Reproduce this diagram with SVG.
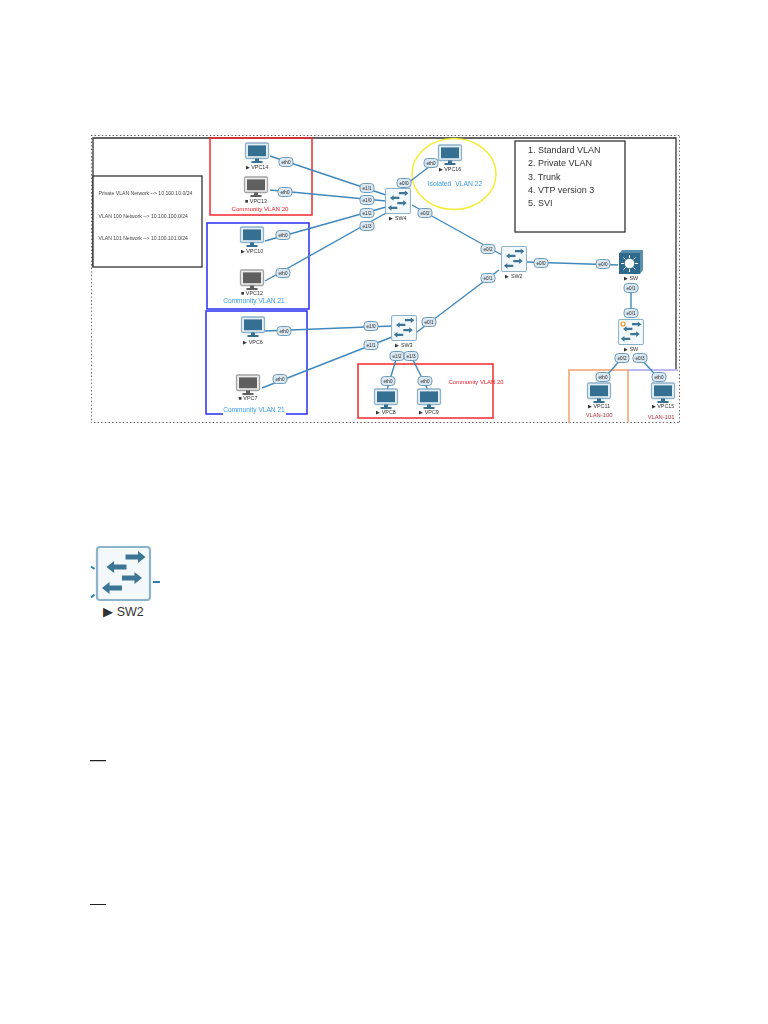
<svg xmlns="http://www.w3.org/2000/svg" width="768" height="1024" viewBox="0 0 768 1024">
<style>
text{font-family:"Liberation Sans",Arial,sans-serif}
.link{fill:none;stroke:#3f88bd;stroke-width:1.4}
.pill rect{fill:#dbe8f1;stroke:#6d9cbb;stroke-width:1}
.pill text{font-size:4.6px;fill:#222;text-anchor:middle}
.nl{font-size:5.4px;fill:#333;text-anchor:middle}
.box{fill:none;stroke-width:1.5}
.dots{fill:none;stroke:#222;stroke-width:1.4;stroke-dasharray:1.4 2.2}
.blue{fill:#3b9cf0;text-anchor:middle}
.red{fill:#f0202a;text-anchor:middle}
.dred{fill:#b5303a;text-anchor:middle;font-size:5.8px}
.note{font-size:5.1px;fill:#444}
.leg{font-size:9px;fill:#333}
</style>
<defs>
<g id="mon"><rect x="-11.5" y="-10" width="23" height="15.5" rx="1.5" fill="#e6eff5" stroke="#8eb2c8" stroke-width="1.3"/><rect x="-9" y="-7.6" width="18" height="10.8" fill="#346f92"/><path d="M-2,5.5H2V8H5.5V10H-5.5V8H-2Z" fill="#346f92"/></g>
<g id="mong"><rect x="-11.5" y="-10" width="23" height="15.5" rx="1.5" fill="#eee" stroke="#a3a3a3" stroke-width="1.3"/><rect x="-9" y="-7.6" width="18" height="10.8" fill="#5e5e5e"/><path d="M-2,5.5H2V8H5.5V10H-5.5V8H-2Z" fill="#5e5e5e"/></g>
<path id="ar" d="M0,-2.4H12.5V-6L20,0L12.5,6V2.4H0Z" fill="#3d7594"/>
<g id="sw"><rect x="-26.5" y="-26.5" width="53" height="53" rx="3" fill="#f3f8fb" stroke="#8db3cb" stroke-width="2.2"/><use href="#ar" transform="translate(2,-16.5)"/><use href="#ar" transform="translate(3,-6.5) rotate(180)"/><use href="#ar" transform="translate(-1.5,4.5)"/><use href="#ar" transform="translate(-1.5,14.5) rotate(180)"/></g>
<filter id="soft" x="0" y="0" width="100%" height="100%"><feGaussianBlur stdDeviation="0.3"/></filter>
</defs>
<rect width="768" height="1024" fill="#fff"/>
<g id="diagram" filter="url(#soft)">
<g id="frame">
<rect class="dots" x="91" y="135" width="589" height="288"/>
<path d="M93,267V138H676V369" fill="none" stroke="#333" stroke-width="1.3"/>
</g>
<g id="regions">
<rect id="box-community-20-a" class="box" x="210" y="138" width="102" height="77" stroke="#f2262c"/>
<rect id="box-community-21-a" class="box" x="207" y="223" width="102" height="86" stroke="#2a2df0"/>
<path id="box-community-21-b" class="box" d="M223,414H206V311H307V414H286" stroke="#2a2df0"/>
<rect id="box-community-20-b" class="box" x="358" y="364" width="135" height="54" stroke="#f2262c"/>
<ellipse id="isolated-22" class="box" cx="454" cy="174" rx="42" ry="35.5" stroke="#f4ec3c"/>
<path id="box-vlan-100" class="box" d="M569,423V370H628V423" stroke="#f5a06e"/>
<path id="box-vlan-101" class="box" d="M628,370H678" stroke="#a9a2ee"/>
</g>
<g id="connectors">
<path class="link" d="M270,156L386,195"/>
<path class="link" d="M270,190L386,201"/>
<path class="link" d="M265,241L386,207"/>
<path class="link" d="M265,281L386,213"/>
<path class="link" d="M404,186L438,160"/>
<path class="link" d="M412,205L502,255"/>
<path class="link" d="M499,270L417,332"/>
<path class="link" d="M527,262L618,265"/>
<path class="link" d="M631,288V313"/>
<path class="link" d="M622,358L601,382"/>
<path class="link" d="M640,358L662,382"/>
<path class="link" d="M265,331L392,326"/>
<path class="link" d="M262,388L392,337"/>
<path class="link" d="M397,356L387,390"/>
<path class="link" d="M411,356L428,390"/>
</g>
<g id="connector-labels">
<g class="pill" transform="translate(286,162)"><rect x="-7" y="-4.5" width="14" height="9" rx="3.5"/><text y="1.7">eth0</text></g>
<g class="pill" transform="translate(367,188)"><rect x="-7" y="-4.5" width="14" height="9" rx="3.5"/><text y="1.7">e1/1</text></g>
<g class="pill" transform="translate(285,192)"><rect x="-7" y="-4.5" width="14" height="9" rx="3.5"/><text y="1.7">eth0</text></g>
<g class="pill" transform="translate(367,200)"><rect x="-7" y="-4.5" width="14" height="9" rx="3.5"/><text y="1.7">e1/0</text></g>
<g class="pill" transform="translate(283,235)"><rect x="-7" y="-4.5" width="14" height="9" rx="3.5"/><text y="1.7">eth0</text></g>
<g class="pill" transform="translate(367,213)"><rect x="-7" y="-4.5" width="14" height="9" rx="3.5"/><text y="1.7">e1/2</text></g>
<g class="pill" transform="translate(283,273)"><rect x="-7" y="-4.5" width="14" height="9" rx="3.5"/><text y="1.7">eth0</text></g>
<g class="pill" transform="translate(367,226)"><rect x="-7" y="-4.5" width="14" height="9" rx="3.5"/><text y="1.7">e1/3</text></g>
<g class="pill" transform="translate(404,183)"><rect x="-7" y="-4.5" width="14" height="9" rx="3.5"/><text y="1.7">e0/0</text></g>
<g class="pill" transform="translate(431,163)"><rect x="-7" y="-4.5" width="14" height="9" rx="3.5"/><text y="1.7">eth0</text></g>
<g class="pill" transform="translate(425,213)"><rect x="-7" y="-4.5" width="14" height="9" rx="3.5"/><text y="1.7">e0/2</text></g>
<g class="pill" transform="translate(488,249)"><rect x="-7" y="-4.5" width="14" height="9" rx="3.5"/><text y="1.7">e0/2</text></g>
<g class="pill" transform="translate(488,278)"><rect x="-7" y="-4.5" width="14" height="9" rx="3.5"/><text y="1.7">e0/1</text></g>
<g class="pill" transform="translate(429,322)"><rect x="-7" y="-4.5" width="14" height="9" rx="3.5"/><text y="1.7">e0/1</text></g>
<g class="pill" transform="translate(541,263)"><rect x="-7" y="-4.5" width="14" height="9" rx="3.5"/><text y="1.7">e0/0</text></g>
<g class="pill" transform="translate(603,264)"><rect x="-7" y="-4.5" width="14" height="9" rx="3.5"/><text y="1.7">e0/0</text></g>
<g class="pill" transform="translate(631,288)"><rect x="-7" y="-4.5" width="14" height="9" rx="3.5"/><text y="1.7">e0/1</text></g>
<g class="pill" transform="translate(631,313)"><rect x="-7" y="-4.5" width="14" height="9" rx="3.5"/><text y="1.7">e0/1</text></g>
<g class="pill" transform="translate(622,358)"><rect x="-7" y="-4.5" width="14" height="9" rx="3.5"/><text y="1.7">e0/2</text></g>
<g class="pill" transform="translate(640,358)"><rect x="-7" y="-4.5" width="14" height="9" rx="3.5"/><text y="1.7">e0/3</text></g>
<g class="pill" transform="translate(603,377)"><rect x="-7" y="-4.5" width="14" height="9" rx="3.5"/><text y="1.7">eth0</text></g>
<g class="pill" transform="translate(659,377)"><rect x="-7" y="-4.5" width="14" height="9" rx="3.5"/><text y="1.7">eth0</text></g>
<g class="pill" transform="translate(371,326)"><rect x="-7" y="-4.5" width="14" height="9" rx="3.5"/><text y="1.7">e1/0</text></g>
<g class="pill" transform="translate(284,331)"><rect x="-7" y="-4.5" width="14" height="9" rx="3.5"/><text y="1.7">eth0</text></g>
<g class="pill" transform="translate(371,345)"><rect x="-7" y="-4.5" width="14" height="9" rx="3.5"/><text y="1.7">e1/1</text></g>
<g class="pill" transform="translate(280,379)"><rect x="-7" y="-4.5" width="14" height="9" rx="3.5"/><text y="1.7">eth0</text></g>
<g class="pill" transform="translate(397,356)"><rect x="-7" y="-4.5" width="14" height="9" rx="3.5"/><text y="1.7">e1/2</text></g>
<g class="pill" transform="translate(411,356)"><rect x="-7" y="-4.5" width="14" height="9" rx="3.5"/><text y="1.7">e1/3</text></g>
<g class="pill" transform="translate(388,381)"><rect x="-7" y="-4.5" width="14" height="9" rx="3.5"/><text y="1.7">eth0</text></g>
<g class="pill" transform="translate(425,381)"><rect x="-7" y="-4.5" width="14" height="9" rx="3.5"/><text y="1.7">eth0</text></g>
</g>
<g id="VPC14"><use href="#mon" x="257" y="153"/><text class="nl" x="257" y="169">▶ VPC14</text></g>
<g id="VPC13"><use href="#mong" x="256" y="187"/><text class="nl" x="256" y="203">■ VPC13</text></g>
<g id="VPC10"><use href="#mon" x="252" y="237"/><text class="nl" x="252" y="253">▶ VPC10</text></g>
<g id="VPC12"><use href="#mong" x="252" y="280"/><text class="nl" x="252" y="295">■ VPC12</text></g>
<g id="VPC6"><use href="#mon" x="253" y="327"/><text class="nl" x="253" y="344">▶ VPC6</text></g>
<g id="VPC7"><use href="#mong" x="248" y="385"/><text class="nl" x="248" y="400">■ VPC7</text></g>
<g id="VPC8"><use href="#mon" x="386" y="399"/><text class="nl" x="386" y="414">▶ VPC8</text></g>
<g id="VPC9"><use href="#mon" x="429" y="399"/><text class="nl" x="429" y="414">▶ VPC9</text></g>
<g id="VPC16"><use href="#mon" x="450" y="155"/><text class="nl" x="450" y="171">▶ VPC16</text></g>
<g id="VPC11"><use href="#mon" x="599" y="393"/><text class="nl" x="599" y="408">▶ VPC11</text></g>
<g id="VPC15"><use href="#mon" x="663" y="393"/><text class="nl" x="663" y="408">▶ VPC15</text></g>
<g id="SW4"><use href="#sw" transform="translate(398,201) scale(.47)"/><text class="nl" x="398" y="220">▶ SW4</text></g>
<g id="SW3"><use href="#sw" transform="translate(404,328) scale(.47)"/><text class="nl" x="404" y="347">▶ SW3</text></g>
<g id="SW2"><use href="#sw" transform="translate(514,259) scale(.47)"/><text class="nl" x="514" y="278">▶ SW2</text></g>
<g id="SW-core">
<path d="M619,254L622,250H643V270L640,274V254Z" fill="#5c8fab"/>
<rect x="619" y="253" width="21" height="21" fill="#2f6a8c"/>
<path d="M629.5,255V258M629.5,269V272M621,263.5H624M635,263.5H638M623.5,257.5L625.5,259.5M633.5,267.5L635.5,269.5M635.5,257.5L633.5,259.5M625.5,267.5L623.5,269.5" stroke="#fff" stroke-width="1"/>
<circle cx="629.5" cy="263.5" r="4.8" fill="#fff"/>
<text class="nl" x="631" y="280">▶ SW</text>
</g>
<g id="SW-access"><use href="#sw" transform="translate(631,332) scale(.47)"/><circle cx="623" cy="324" r="2" fill="none" stroke="#f09a30" stroke-width="1.2"/><text class="nl" x="631" y="351">▶ SW</text></g>
<g id="labels">
<text class="red" x="260" y="211" font-size="6.1">Community VLAN 20</text>
<text class="blue" x="254" y="303" font-size="6.6">Community VLAN 21</text>
<text class="blue" x="254" y="412" font-size="6.6">Community VLAN 21</text>
<text class="red" x="476" y="384" font-size="5.9">Community VLAN 20</text>
<text class="blue" x="455" y="186" font-size="6.8" xml:space="preserve">Isolated  VLAN 22</text>
<text class="dred" x="599" y="417">VLAN-100</text>
<text class="dred" x="661" y="419">VLAN-101</text>
</g>
<g id="note-networks">
<rect x="93" y="176" width="109" height="91" fill="#fff" stroke="#333" stroke-width="1.3"/>
<text class="note" x="98.5" y="195">Private VLAN Network --&gt; 10.100.10.0/24</text>
<text class="note" x="98.5" y="218">VLAN 100 Network --&gt; 10.100.100.0/24</text>
<text class="note" x="98.5" y="240">VLAN 101 Network --&gt; 10.100.101.0/24</text>
</g>
<g id="note-topics">
<rect x="515" y="141" width="110" height="91" fill="#fff" stroke="#333" stroke-width="1.3"/>
<text class="leg" x="528" y="153">1. Standard VLAN</text>
<text class="leg" x="528" y="166">2. Private VLAN</text>
<text class="leg" x="528" y="180">3. Trunk</text>
<text class="leg" x="528" y="193">4. VTP version 3</text>
<text class="leg" x="528" y="206">5. SVI</text>
</g>
</g>
<g id="SW2-large">
<use href="#sw" transform="translate(123.5,573.5)"/>
<path d="M91,566.5L94.5,569M91,597.5L94.5,594.5M153,582H160" stroke="#2f7fb5" stroke-width="2" fill="none"/>
<text x="123.5" y="616" font-size="12.5" fill="#333" text-anchor="middle">▶ SW2</text>
</g>
<g id="rules">
<path d="M90,760.7H106M90,904.5H106" stroke="#222" stroke-width="1.2"/>
</g>
</svg>
